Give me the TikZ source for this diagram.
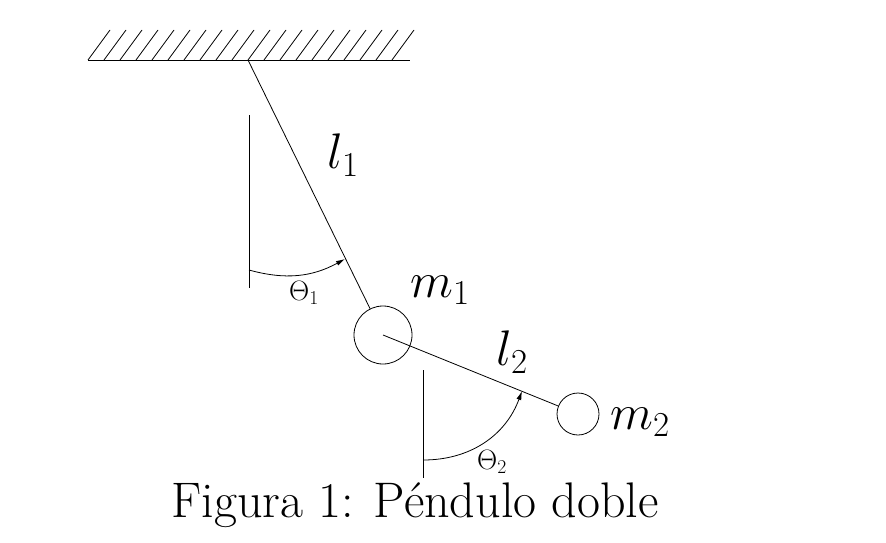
\documentclass[tikz,border=0pt]{standalone}
\usepackage{fix-cm}
\usetikzlibrary{arrows.meta}
\begin{document}
\begin{tikzpicture}[x=1pt,y=-1pt,
  thin/.style={line width=0.8pt},
  arr/.style={line width=0.8pt,-{Latex[length=9pt,width=5pt]}},
  lbl/.style={font=\fontsize{50}{52}\selectfont},
  small/.style={font=\fontsize{28}{30}\selectfont}]
\useasboundingbox (0,0) rectangle (886,543);
\coordinate (L) at (88,60); \coordinate (R) at (410,60);
\draw[thin] (L) -- (R);
\foreach \x in {88,104,...,400} \draw[thin] (\x,60) -- (\x+22,30);
\coordinate (P) at (248,60);
\node[circle,draw,thin,minimum size=58pt,inner sep=0] (m1) at (383,335) {};
\node[circle,draw,thin,minimum size=42pt,inner sep=0] (m2) at (578,414) {};
\draw[thin] (P) -- (m1);
\draw[thin] (m1.center) -- (m2);
\coordinate (v1a) at (249,115); \coordinate (v1b) at (249,288);
\draw[thin] (v1a) -- (v1b);
\coordinate (a1s) at (249,270); \coordinate (a1e) at (345,259);
\draw[arr] (a1s) to[bend right=22] (a1e);
\coordinate (v2a) at (423,370); \coordinate (v2b) at (423,478);
\draw[thin] (v2a) -- (v2b);
\coordinate (a2s) at (423,460); \coordinate (a2e) at (522,391);
\draw[arr] (a2s) to[bend right=35] (a2e);
\node[lbl] (l1) at (343,155) {$l_1$};
\node[lbl] (lm1) at (440,290) {$m_1$};
\node[lbl] (l2) at (512,352) {$l_2$};
\node[lbl] (lm2) at (640,422) {$m_2$};
\node[small] (t1) at (304,293) {$\Theta_1$};
\node[small] (t2) at (492,462) {$\Theta_2$};
\node[font=\fontsize{50}{52}\selectfont] (cap) at (415,505) {Figura 1: Péndulo doble};
\end{tikzpicture}
\end{document}
